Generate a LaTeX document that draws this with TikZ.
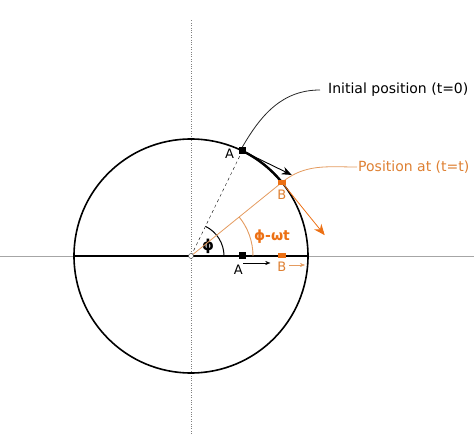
\documentclass[tikz,border=0pt]{standalone}
\usepackage{fontspec}
\setmainfont{DejaVu Sans}
\usetikzlibrary{positioning,arrows.meta}
\definecolor{phase}{RGB}{236,112,20}
\definecolor{phasetext}{RGB}{222,128,50}
\definecolor{phaselight}{RGB}{228,155,95}

\begin{document}
\begin{tikzpicture}[x=1pt, y=1pt,
    marker/.style={fill=black, minimum size=7pt, inner sep=0pt},
    markerB/.style={fill=phase, minimum width=8pt, minimum height=5pt, inner sep=0pt},
    lbl/.style={font=\fontsize{13}{15}\selectfont},
    callout/.style={font=\fontsize{14}{16}\selectfont, anchor=west, inner sep=0pt}]
    \useasboundingbox (-191,-180) rectangle (283,256);
    \draw[gray!70, thin] (-191,0) -- (283,0);
    \draw[gray, dotted] (0,-180) -- (0,236);
    \draw[line width=1.6pt] (0,0) circle [radius=117];
    \draw[line width=1.8pt] (-117,0) -- (117,0);
    \coordinate (O) at (0,0);
    \coordinate (A) at (64:117);
    \coordinate (B) at (39:117);
    \draw[line width=2.4pt] (A) arc [start angle=64, end angle=39, radius=117];

    % angles
    \draw[line width=1pt] (33,0) arc [start angle=0, end angle=64, radius=33];
    \draw[phaselight, line width=0.9pt] (62,0) arc [start angle=0, end angle=39, radius=62];
    \node[font=\bfseries\fontsize{15}{17}\selectfont] (phi) at (17,10) {ϕ};
    \node[font=\bfseries\fontsize{14}{16}\selectfont, text=phase] (phiwt) at (81,19) {ϕ-ωt};

    % markers
    \node[marker] (Am) at (A) {};
    \node[marker] (Ax) at (A |- O) {};
    \node[markerB] (Bm) at (B) {};
    \node[markerB] (Bx) at (B |- O) {};
    \draw[dashed] (O) -- (Am.center);

    % callouts
    \node[callout] (init) at (137,166) {Initial position (t=0)};
    \node[callout, text=phasetext] (pos) at (167,89) {Position at (t=t)};
    \draw[gray!30!black, line width=0.8pt] (Am.north) to[out=60, in=180] ([xshift=-8pt]init.west);
    \draw[phaselight, line width=0.8pt] (O) -- (Bm.center) to[out=39, in=180] ([xshift=-1pt]pos.west);
    \node[markerB] at (B) {};

    % velocities
    \coordinate (At) at ([shift={(-26:55)}]A);
    \coordinate (Bt) at ([shift={(-51:68)}]B);
    \draw[line width=0.9pt, -{Stealth[length=10pt, width=8pt]}] (Am.center) -- (At);
    \draw[phase, line width=0.8pt, -{Stealth[length=11pt, width=9pt]}] (Bm.center) -- (Bt);
    \coordinate (Aa) at ([shift={(1,-7)}]Ax.center);
    \coordinate (Ab) at ([shift={(28,-7)}]Ax.center);
    \coordinate (Ba) at ([shift={(7,-9)}]Bx.center);
    \coordinate (Bb) at ([shift={(23,-9)}]Bx.center);
    \draw[-{Stealth[length=5pt, width=4pt]}] (Aa) -- (Ab);
    \draw[phaselight, -{Stealth[length=5pt, width=4pt]}] (Ba) -- (Bb);

    % labels
    \node[lbl, left=1pt of Am, yshift=-3pt] (Alab) {A};
    \node[lbl, below=2pt of Ax, xshift=-4pt] (Axlab) {A};
    \node[lbl, text=phasetext, below=1pt of Bm] (Blab) {B};
    \node[lbl, text=phasetext, below=0pt of Bx] (Bxlab) {B};
    \draw[gray!40!black, fill=white] (O) circle [radius=2.5pt];
  \end{tikzpicture}
\end{document}
